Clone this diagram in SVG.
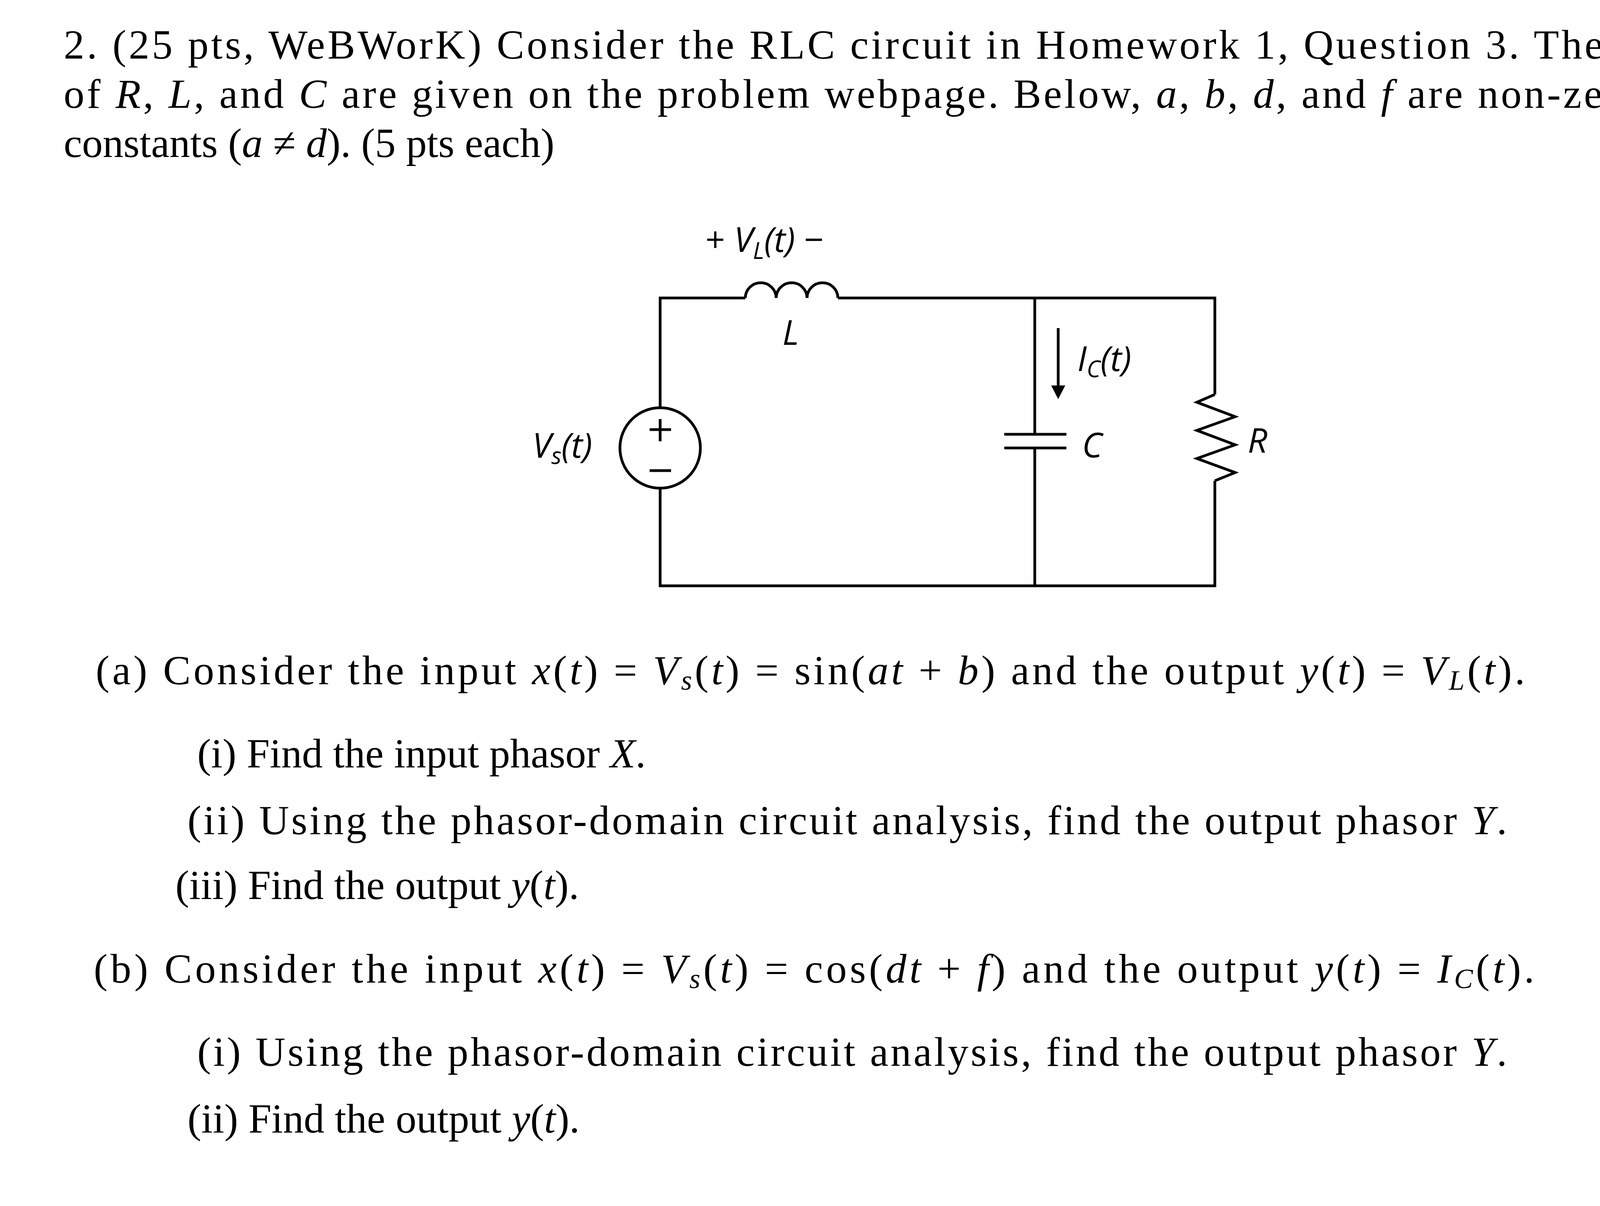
<svg xmlns="http://www.w3.org/2000/svg" width="4781" height="3088" viewBox="0 0 4781 3088">
<style>
.t{font-family:"Liberation Serif",serif;font-size:106px;fill:#000}
.c{font-family:"Open Sans","Liberation Sans",sans-serif;font-size:88px;fill:#000}
.w{stroke:#000;stroke-width:7;fill:none}
</style>
<rect width="4781" height="3088" fill="#fff"/>
<g id="header">
<text class="t" x="163" y="150" textLength="4282" lengthAdjust="spacing">2. (25 pts, WeBWorK) Consider the RLC circuit in Homework 1, Question 3. The values</text>
<text class="t" x="163" y="276" textLength="4287" lengthAdjust="spacing">of <tspan font-style="italic">R</tspan>, <tspan font-style="italic">L</tspan>, and <tspan font-style="italic">C</tspan> are given on the problem webpage. Below, <tspan font-style="italic">a</tspan>, <tspan font-style="italic">b</tspan>, <tspan font-style="italic">d</tspan>, and <tspan font-style="italic">f</tspan> are non-zero, real</text>
<text class="t" x="163" y="402">constants (<tspan font-style="italic">a</tspan> ≠ <tspan font-style="italic">d</tspan>). (5 pts each)</text>
</g>
<g id="connectors">
<path class="w" d="M1690,1044 V763 H1908 M2145,763 H3110 V1010 M3110,1231 V1500 H1690 V1250 M2649,763 V1112 M2649,1147 V1500"/>
<path class="w" d="M1908,763 a39.5,39 0 0 1 79,0 a39.5,39 0 0 1 79,0 a39.5,39 0 0 1 79,0"/>
<path class="w" d="M3110,1010 L3064,1030 L3162,1067 L3064,1102 L3162,1139 L3064,1174 L3162,1210 L3110,1231"/>
<path class="w" stroke-width="9" d="M2571,1112 H2730 M2571,1147 H2730"/>
<path class="w" d="M2709,840 V995"/>
<polygon points="2691,987 2727,987 2709,1022" fill="#000"/>
</g>
<g id="source">
<circle class="w" cx="1690" cy="1147" r="103"/>
<path class="w" stroke-width="5" d="M1690,1073 V1130 M1663,1100 H1718 M1663,1205 H1718"/>
<text class="c" x="1363" y="1172" font-style="italic">V<tspan font-size="60" dy="16">s</tspan><tspan dy="-16">(t)</tspan></text>
</g>
<g id="inductor"><text class="c" x="1806" y="645">+  <tspan font-style="italic">V<tspan font-size="60" dy="18">L</tspan><tspan dy="-18">(t)</tspan></tspan>  −</text>
<text class="c" x="2003" y="883" font-style="italic">L</text></g>
<g id="capacitor"><text class="c" x="2758" y="950" font-style="italic">I<tspan font-size="60" dy="16">C</tspan><tspan dy="-16">(t)</tspan></text>
<text class="c" x="2770" y="1171" font-style="italic">C</text></g>
<g id="resistor"><text class="c" x="3194" y="1159" font-style="italic">R</text></g>
<g id="questions">
<text class="t" x="245" y="1752" textLength="3659" lengthAdjust="spacing">(a)  Consider the input <tspan font-style="italic">x</tspan>(<tspan font-style="italic">t</tspan>) = <tspan font-style="italic">V<tspan font-size="72" dy="14">s</tspan></tspan><tspan dy="-14">(</tspan><tspan font-style="italic">t</tspan>) = sin(<tspan font-style="italic">at</tspan> + <tspan font-style="italic">b</tspan>) and the output <tspan font-style="italic">y</tspan>(<tspan font-style="italic">t</tspan>) = <tspan font-style="italic">V<tspan font-size="72" dy="14">L</tspan></tspan><tspan dy="-14">(</tspan><tspan font-style="italic">t</tspan>).</text>
<text class="t" x="505" y="1965">(i)  Find the input phasor <tspan font-style="italic">X</tspan>.</text>
<text class="t" x="480" y="2136" textLength="3378" lengthAdjust="spacing">(ii)  Using the phasor-domain circuit analysis, find the output phasor <tspan font-style="italic">Y</tspan>.</text>
<text class="t" x="449" y="2302">(iii)  Find the output <tspan font-style="italic">y</tspan>(<tspan font-style="italic">t</tspan>).</text>
<text class="t" x="240" y="2516" textLength="3688" lengthAdjust="spacing">(b)  Consider the input <tspan font-style="italic">x</tspan>(<tspan font-style="italic">t</tspan>) = <tspan font-style="italic">V<tspan font-size="72" dy="14">s</tspan></tspan><tspan dy="-14">(</tspan><tspan font-style="italic">t</tspan>) = cos(<tspan font-style="italic">dt</tspan> + <tspan font-style="italic">f</tspan>) and the output <tspan font-style="italic">y</tspan>(<tspan font-style="italic">t</tspan>) = <tspan font-style="italic">I<tspan font-size="72" dy="14">C</tspan></tspan><tspan dy="-14">(</tspan><tspan font-style="italic">t</tspan>).</text>
<text class="t" x="505" y="2729" textLength="3353" lengthAdjust="spacing">(i)  Using the phasor-domain circuit analysis, find the output phasor <tspan font-style="italic">Y</tspan>.</text>
<text class="t" x="480" y="2900">(ii)  Find the output <tspan font-style="italic">y</tspan>(<tspan font-style="italic">t</tspan>).</text>
</g>
</svg>
